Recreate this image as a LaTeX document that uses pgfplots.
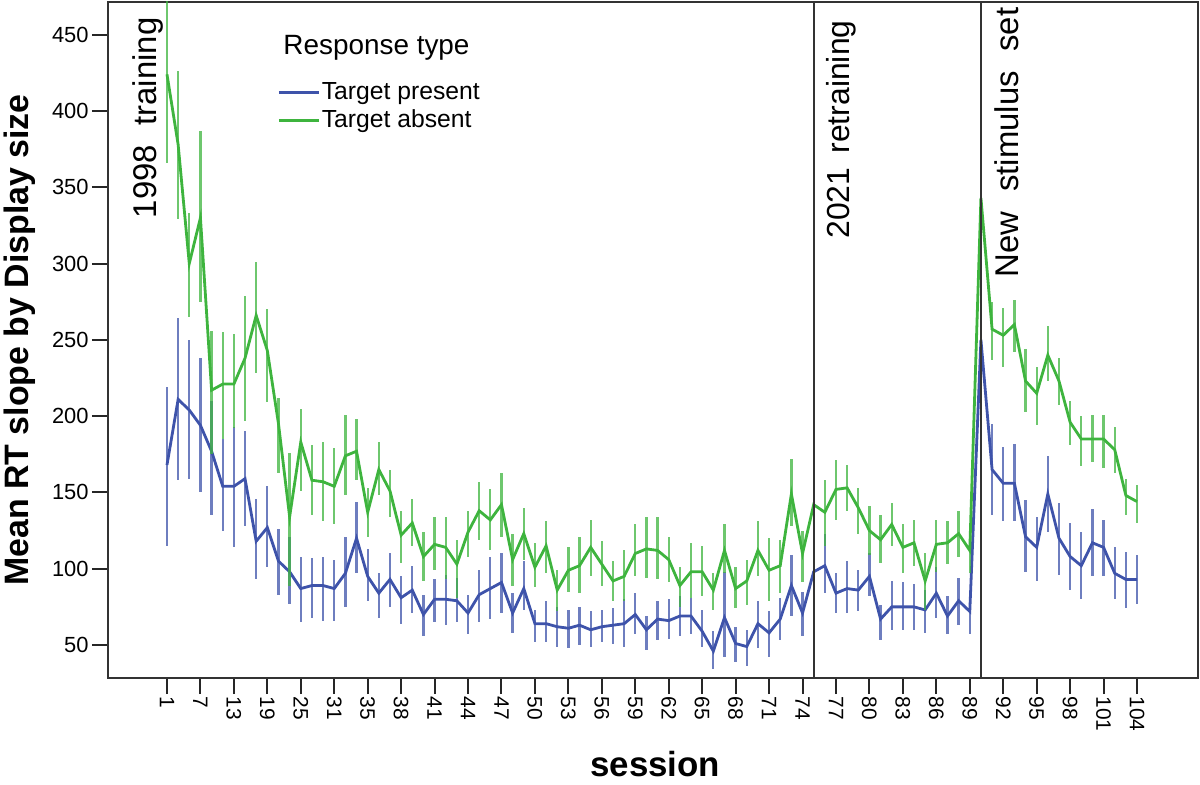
\documentclass[border=0pt]{standalone}
\usepackage{fontspec}
\setmainfont{Liberation Sans}
\usepackage{pgfplots}
\usepackage{pgfplotstable}
\pgfplotsset{compat=1.18}
\definecolor{sblue}{RGB}{62,83,170}
\definecolor{sgreen}{RGB}{62,180,62}

\pgfplotstableread{
x y ep em
0 168 51 53
1 211 53 53
2 204 46 45
3 194 44 44
4 177 33 42
5 154 31 29
6 154 39 40
7 159 31 31
8 118 28 25
9 127 27 26
10 105 21 22
11 98 23 21
12 87 21 22
13 89 18 21
14 89 19 23
15 87 19 21
16 97 24 22
17 120 24 23
18 95 18 16
19 84 13 16
20 93 17 18
21 81 14 17
22 86 16 15
23 70 13 14
24 80 13 15
25 80 16 17
26 79 15 14
27 71 12 14
28 83 16 18
29 87 21 20
30 91 19 20
31 71 13 13
32 87 18 14
33 64 9 12
34 64 15 12
35 62 13 13
36 61 12 13
37 63 12 13
38 60 12 11
39 62 11 10
40 63 11 12
41 64 16 15
42 70 14 13
43 60 9 13
44 67 12 14
45 66 14 12
46 69 13 13
47 69 12 12
48 59 14 10
49 46 13 12
50 68 30 26
51 51 11 12
52 49 11 13
53 64 15 16
54 58 14 16
55 67 14 14
56 89 20 20
57 71 14 15
58 98 18 18
59 102 21 18
60 84 13 13
61 87 18 16
62 86 13 14
63 95 15 13
64 67 9 14
65 75 17 15
66 75 16 15
67 75 15 15
68 73 13 15
69 84 17 16
70 69 13 12
71 79 15 16
72 72 11 15
73 250 50 52
74 165 30 30
75 156 24 25
76 156 26 25
77 121 24 23
78 114 20 22
79 149 25 25
80 120 23 24
81 108 22 22
82 102 22 22
83 117 22 22
84 114 18 19
85 97 17 17
86 93 18 19
87 93 16 16
}\bluedata

\pgfplotstableread{
x y ep em
0 424 60 58
1 378 48 49
2 300 33 35
3 330 57 55
4 217 39 42
5 221 34 36
6 221 33 29
7 238 41 41
8 266 35 38
9 243 27 34
10 195 17 32
11 134 42 45
12 183 22 32
13 158 23 23
14 157 26 26
15 154 25 25
16 174 27 26
17 177 21 19
18 137 16 16
19 165 18 17
20 151 14 17
21 122 16 18
22 130 16 15
23 108 16 16
24 116 18 17
25 114 20 21
26 103 16 22
27 124 14 16
28 138 19 19
29 132 20 20
30 142 21 21
31 106 17 17
32 123 17 17
33 101 16 13
34 115 16 18
35 86 13 14
36 99 15 14
37 102 19 18
38 114 18 19
39 103 15 14
40 92 13 13
41 95 17 16
42 110 19 15
43 113 21 19
44 112 22 19
45 106 15 15
46 89 12 14
47 98 19 17
48 98 17 16
49 86 11 13
50 112 17 15
51 87 14 13
52 92 14 16
53 112 19 17
54 99 21 20
55 102 17 18
56 149 23 21
57 110 15 19
58 142 23 19
59 137 21 22
60 152 19 20
61 153 15 15
62 140 13 17
63 125 16 16
64 119 16 15
65 129 14 14
66 114 15 17
67 117 15 15
68 92 18 19
69 116 16 18
70 117 14 14
71 123 15 15
72 112 13 15
73 343 41 41
74 257 18 20
75 253 18 21
76 260 16 18
77 223 21 20
78 215 17 21
79 240 19 17
80 223 15 16
81 196 14 15
82 185 15 18
83 185 16 15
84 185 16 19
85 178 15 15
86 148 11 13
87 144 11 14
}\greendata

\begin{document}
\begin{tikzpicture}
\path[use as bounding box] (-54bp,-53.5bp) rectangle (546bp,339bp);
\begin{axis}[
  at={(0,0)}, anchor=south west,
  scale only axis, width=545bp, height=338bp,
  xmin=-5.29, xmax=92.47, ymin=28.4, ymax=471.4,
  axis line style={line width=1bp, black!80},
  xtick={0,3,...,87},
  xticklabels={1,7,13,19,25,31,35,38,41,44,47,50,53,56,59,62,65,68,71,74,77,80,83,86,89,92,95,98,101,104},
  ytick={50,100,...,450},
  xtick pos=bottom, ytick pos=left,
  tick align=outside,
  major tick length=8bp,
  tick style={line width=1bp, black!85},
  x tick label style={rotate=-90, anchor=west, font=\fontsize{10.5}{12}\selectfont, inner sep=1bp},
  y tick label style={font=\fontsize{11}{13}\selectfont, inner sep=1.5bp},
  /pgf/number format/assume math mode=true,
  xlabel={session},
  xlabel style={font=\bfseries\fontsize{17.5}{20}\selectfont, inner sep=0pt, at={(axis description cs:0.502,-0.128)}, anchor=center},
  ylabel={Mean RT slope by Display size},
  ylabel style={font=\bfseries\fontsize{17}{20}\selectfont, inner sep=0pt, at={(axis description cs:-0.081,0.5)}, anchor=center},
  legend style={draw=none, fill=none, inner sep=0pt, at={(axis description cs:0.155,0.887)}, anchor=north west,
    font=\fontsize{12.4}{14}\selectfont, row sep=0pt,
    nodes={inner sep=0.75bp, text height=9.5bp, text depth=3bp}},
  legend cell align=left,
  legend image code/.code={\draw[#1, line width=1.5bp] (0bp,0bp) -- (20bp,0bp);},
]
\addplot[sblue, line width=1.4bp, mark=none,
  error bars/.cd, y dir=both, y explicit, error mark=none,
  error bar style={line width=1.15bp, sblue, opacity=0.75}]
  table[x=x, y=y, y error plus=ep, y error minus=em] {\bluedata};
\addplot[sgreen, line width=1.4bp, mark=none,
  error bars/.cd, y dir=both, y explicit, error mark=none,
  error bar style={line width=1.15bp, sgreen, opacity=0.75}]
  table[x=x, y=y, y error plus=ep, y error minus=em] {\greendata};
\legend{Target present, Target absent}
\addplot[black!80, line width=0.9bp, forget plot] coordinates {(58,28.4) (58,471.4)};
\addplot[black!80, line width=0.9bp, forget plot] coordinates {(73,28.4) (73,471.4)};
\node[font=\fontsize{14}{16}\selectfont, anchor=base] at (axis description cs:0.2463,0.9216) {Response type};
\node[rotate=90, anchor=east, inner sep=0pt, font=\fontsize{16.5}{18}\selectfont] at (axis cs:-1.73,461.5) {1998\hspace{0.6em}training};
\node[rotate=90, anchor=east, inner sep=0pt, font=\fontsize{16}{18}\selectfont] at (axis cs:60.5,459.6) {2021\hspace{0.45em}retraining};
\node[rotate=90, anchor=east, inner sep=0pt, font=\fontsize{16.5}{18}\selectfont] at (axis cs:75.3,468) {New\hspace{0.6em}stimulus\hspace{0.6em}set};
\end{axis}
\end{tikzpicture}
\end{document}
